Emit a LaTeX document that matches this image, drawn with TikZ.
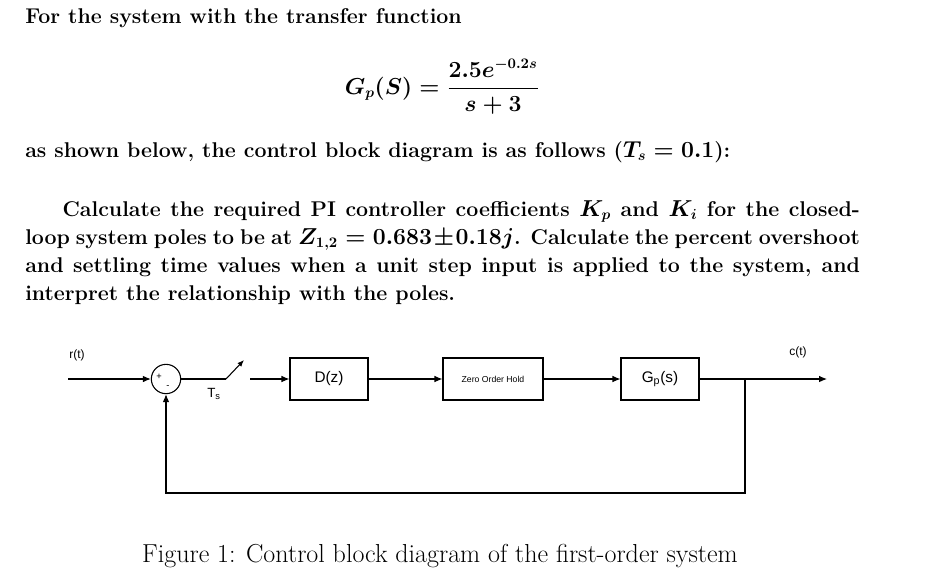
\documentclass[tikz,border=0pt]{standalone}
\usepackage{fontspec}
\usepackage{amsmath}
\newfontfamily\sfb{Liberation Sans}
\usetikzlibrary{arrows.meta}
\begin{document}
\begin{tikzpicture}[x=0.75pt,y=-0.75pt,
  blk/.style={draw,thick,minimum width=58.5pt,minimum height=31.5pt,inner sep=0pt,font=\sfb\fontsize{11.5}{13}\selectfont},
  sig/.style={thick,-{Latex[length=6pt,width=5pt]}},
  txt/.style={anchor=west,inner sep=0pt,font=\bfseries\boldmath\fontsize{16}{21}\selectfont},
  lbl/.style={inner sep=0pt,font=\sfb\fontsize{9}{10}\selectfont}]
\useasboundingbox (0,0) rectangle (935,587);
\node[txt] (t1) at (25,18) {For the system with the transfer function};
\node[txt,anchor=center] (eq) at (442,87) {$G_p(S)=\dfrac{2.5e^{-0.2s}}{s+3}$};
\node[txt] (t2) at (25,152) {as shown below, the control block diagram is as follows ($T_s=0.1$):};
\node[txt,anchor=north west,text width=626pt,align=justify] (par) at (25,200) {\hspace*{28pt}Calculate the required PI controller coefficients $K_p$ and $K_i$ for the closed-loop system poles to be at $Z_{1,2}=0.683\pm0.18j$. Calculate the percent overshoot and settling time values when a unit step input is applied to the system, and interpret the relationship with the poles.};
% diagram
\coordinate (in) at (68,379);
\node[draw,thick,circle,minimum size=22pt,inner sep=0pt] (sum) at (166,379) {};
\node[lbl,font=\sfb\fontsize{7}{8}\selectfont] (pl) at (159,377) {+};
\node[lbl,font=\sfb\fontsize{7}{8}\selectfont] (mi) at (168,387) {-};
\node[lbl] (r) at (77,355) {r(t)};
\coordinate (sw1) at (226,379);
\coordinate (sw2) at (244,360);
\coordinate (sw3) at (250,379);
\node[lbl,font=\sfb\fontsize{10}{12}\selectfont] (ts) at (214,394) {T\textsubscript{s}};
\node[blk] (d) at (329,379) {D(z)};
\node[blk,minimum width=75pt,font=\sfb\fontsize{6.5}{7}\selectfont] (zoh) at (493,379) {Zero Order Hold};
\node[blk] (g) at (660,379) {G\textsubscript{p}(s)};
\coordinate (out) at (827,379);
\coordinate (br) at (745,379);
\coordinate (fb) at (745,493);
\node[lbl] (c) at (798,352) {c(t)};
\draw[sig] (in) -- (sum);
\draw[thick] (sum) -- (sw1);
\draw[thick,-{Latex[length=5pt,width=4pt]}] (sw1) -- (sw2);
\draw[sig] (sw3) -- (d);
\draw[sig] (d) -- (zoh);
\draw[sig] (zoh) -- (g);
\draw[sig] (g) -- (out);
\draw[sig] (br) -- (fb) -| (sum);
\node[anchor=center,inner sep=0pt,font=\fontsize{19.5}{22}\selectfont] (cap) at (440,556) {Figure 1: Control block diagram of the first-order system};
\end{tikzpicture}
\end{document}
